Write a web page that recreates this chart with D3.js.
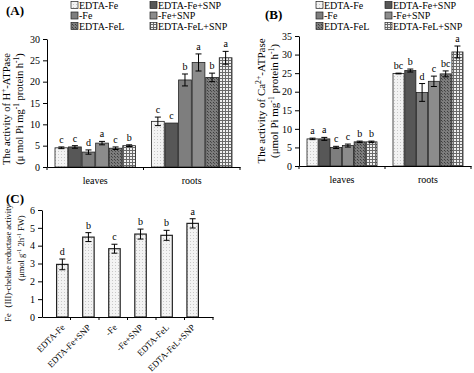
<!DOCTYPE html>
<html>
<head>
<meta charset="utf-8">
<script src="https://cdn.jsdelivr.net/npm/d3@7"></script>
<style>
body { margin: 0; background: #fff; }
text { font-family: "Liberation Serif", "Times New Roman", serif; fill: #000; }
</style>
</head>
<body>
<div class="board"></div>
<script>
var treatments = ["EDTA-Fe", "EDTA-Fe+SNP", "-Fe", "-Fe+SNP", "EDTA-FeL", "EDTA-FeL+SNP"]
var tissues = ["leaves", "roots"]

// (A) H+-ATPase
var hLeaves = [4.5, 4.7, 3.5, 5.6, 4.4, 5.0]
var hLeavesErr = [0.2, 0.3, 0.5, 0.4, 0.3, 0.2]
var hLeavesSig = ["c", "c", "d", "a", "c", "b"]
var hRoots = [10.7, 10.3, 20.4, 24.5, 21.0, 25.6]
var hRootsErr = [1.0, 0, 1.4, 2.0, 1.0, 1.5]
var hRootsSig = ["c", "c", "b", "a", "b", "a"]
var hTicks = [0, 5, 10, 15, 20, 25, 30]

// (B) Ca2+-ATPase
var caLeaves = [7.3, 7.3, 5.0, 5.5, 6.5, 6.5]
var caLeavesErr = [0.2, 0.4, 0.3, 0.4, 0.2, 0.2]
var caLeavesSig = ["a", "a", "c", "c", "b", "b"]
var caRoots = [24.9, 25.7, 19.8, 22.8, 24.8, 30.7]
var caRootsErr = [0.1, 0.4, 2.4, 1.4, 0.8, 1.6]
var caRootsSig = ["bc", "b", "d", "c", "bc", "a"]
var caTicks = [0, 5, 10, 15, 20, 25, 30, 35]

// (C) Fe(III)-chelate reductase
var fcr = [2.95, 4.48, 3.83, 4.65, 4.58, 5.25]
var fcrErr = [0.3, 0.25, 0.25, 0.28, 0.28, 0.26]
var fcrSig = ["d", "b", "c", "b", "b", "a"]
var fcrTicks = [0, 1, 2, 3, 4, 5, 6]

var svg = d3.select(".board")
    .append("svg")
    .attr("width", 474)
    .attr("height", 373)

var defs = svg.append("defs")

function makePattern(id, size, bg) {
    var p = defs.append("pattern")
        .attr("id", id)
        .attr("patternUnits", "userSpaceOnUse")
        .attr("width", size)
        .attr("height", size)
    p.append("rect").attr("width", size).attr("height", size).attr("fill", bg)
    return p
}

var pd = makePattern("pDots", 3, "#f3f3f3")
pd.append("rect").attr("x", 1).attr("y", 1).attr("width", 1).attr("height", 1).attr("fill", "#c8c8c8")

var pc = makePattern("pCross", 3, "#7c7c7c")
pc.append("rect").attr("x", 0).attr("y", 0).attr("width", 1).attr("height", 1).attr("fill", "#3c3c3c")
pc.append("rect").attr("x", 1).attr("y", 1).attr("width", 1).attr("height", 1).attr("fill", "#505050")

var pg = makePattern("pGrid", 3, "#f0f0f0")
pg.append("rect").attr("x", 0).attr("y", 0).attr("width", 3).attr("height", 1).attr("fill", "#6a6a6a")
pg.append("rect").attr("x", 0).attr("y", 0).attr("width", 1).attr("height", 3).attr("fill", "#6a6a6a")

var fills = {
    "EDTA-Fe": "url(#pDots)",
    "EDTA-Fe+SNP": "#575757",
    "-Fe": "#7e7e7e",
    "-Fe+SNP": "#8c8c8c",
    "EDTA-FeL": "url(#pCross)",
    "EDTA-FeL+SNP": "url(#pGrid)"
}

// text with ^{..} superscripts
function richText(sel, str) {
    var parts = str.split(/(\^\{[^}]*\})/)
    parts.forEach(part => {
        if (!part) return
        if (part.startsWith("^{")) {
            sel.append("tspan")
                .attr("font-size", "0.7em")
                .attr("baseline-shift", "super")
                .text(part.slice(2, -1))
        } else {
            sel.append("tspan").text(part)
        }
    })
}

function styleAxis(a) {
    a.selectAll("path, line").attr("stroke", "#000")
    a.selectAll("text").attr("font-size", 10).attr("fill", "#000")
        .attr("font-family", "Liberation Serif, Times New Roman, serif")
}

function errorBar(g, cx, y, v, e, letter, capW) {
    if (e > 0) {
        g.append("line").attr("x1", cx).attr("x2", cx)
            .attr("y1", y(v + e)).attr("y2", y(v - e))
            .attr("stroke", "#000").attr("stroke-width", 1)
        ;[v + e, v - e].forEach(t => {
            g.append("line").attr("x1", cx - capW / 2).attr("x2", cx + capW / 2)
                .attr("y1", y(t)).attr("y2", y(t))
                .attr("stroke", "#000").attr("stroke-width", 1)
        })
    }
    g.append("text")
        .attr("x", cx)
        .attr("y", y(v + e) - 4)
        .attr("text-anchor", "middle")
        .attr("font-size", 10)
        .text(letter)
}

function groupedPanel(p) {
    var g = svg.append("g")
    var y = d3.scaleLinear().domain([0, p.yMax]).range([p.bottom, p.top])
    var xg = d3.scaleBand().domain(tissues).range([p.left, p.right])
    var xb = d3.scaleBand().domain(treatments)
        .range([p.inset, xg.bandwidth() - p.inset])
        .paddingInner(0.06)

    p.series.forEach((s, gi) => {
        s.vals.forEach((v, i) => {
            var bx = xg(tissues[gi]) + xb(treatments[i])
            g.append("rect")
                .attr("x", bx)
                .attr("y", y(v))
                .attr("width", xb.bandwidth())
                .attr("height", y(0) - y(v))
                .attr("fill", fills[treatments[i]])
                .attr("stroke", "#222")
                .attr("stroke-width", 0.8)
            errorBar(g, bx + xb.bandwidth() / 2, y, v, s.errs[i], s.sig[i], 6)
        })
    })

    var ya = g.append("g")
        .attr("transform", `translate(${p.left},0)`)
        .call(d3.axisLeft(y).tickValues(p.ticks).tickSize(4).tickSizeOuter(0).tickPadding(3))
    styleAxis(ya)

    var xa = g.append("g")
        .attr("transform", `translate(0,${p.bottom})`)
        .call(d3.axisBottom(xg).tickSize(0).tickPadding(10))
    styleAxis(xa)
    ;[p.left, xg(tissues[1]), p.right].forEach(t => {
        g.append("line").attr("x1", t).attr("x2", t)
            .attr("y1", p.bottom).attr("y2", p.bottom + 3)
            .attr("stroke", "#000")
    })

    var mid = (p.top + p.bottom) / 2 + p.labShift
    p.ylab.forEach((l, k) => {
        var t = g.append("text")
            .attr("transform", `translate(${p.labX[k]},${mid}) rotate(-90)`)
            .attr("text-anchor", "middle")
            .attr("font-size", p.labSize)
        richText(t, l)
    })

    g.append("text")
        .attr("x", p.title[1]).attr("y", p.title[2])
        .attr("font-size", 13).attr("font-weight", "bold")
        .text(p.title[0])

    // legend
    treatments.forEach((d, i) => {
        var lx = p.legX[i % 2], ly = p.legY + Math.floor(i / 2) * 10.5
        g.append("rect")
            .attr("x", lx).attr("y", ly - 3.5)
            .attr("width", 7).attr("height", 7)
            .attr("fill", fills[d])
            .attr("stroke", "#222").attr("stroke-width", 0.7)
        g.append("text")
            .attr("x", lx + 8).attr("y", ly + 3.5)
            .attr("font-size", 10)
            .text(d)
    })
}

groupedPanel({
    left: 47, right: 240, top: 39, bottom: 167, inset: 8, yMax: 30, ticks: hTicks,
    series: [
        { vals: hLeaves, errs: hLeavesErr, sig: hLeavesSig },
        { vals: hRoots, errs: hRootsErr, sig: hRootsSig }
    ],
    ylab: ["The activity of H^{+}-ATPase", "(μ mol Pi mg^{-1} protein h^{-1})"],
    labX: [10, 23], labShift: 6, labSize: 10.5,
    title: ["(A)", 6, 15],
    legX: [71, 150], legY: 5
})

groupedPanel({
    left: 299, right: 471, top: 36, bottom: 166, inset: 8, yMax: 35, ticks: caTicks,
    series: [
        { vals: caLeaves, errs: caLeavesErr, sig: caLeavesSig },
        { vals: caRoots, errs: caRootsErr, sig: caRootsSig }
    ],
    ylab: ["The activity of Ca^{2+}-ATPase", "(μmol Pi mg^{-1} protein h^{-1})"],
    labX: [265, 278], labShift: 0, labSize: 11,
    title: ["(B)", 265, 19],
    legX: [316, 385], legY: 5
})

// panel C
var gc = svg.append("g")
var yc = d3.scaleLinear().domain([0, 6]).range([317, 210])
var xc = d3.scaleBand().domain(treatments).range([42, 213]).padding(0.56)

fcr.forEach((v, i) => {
    var bx = xc(treatments[i])
    gc.append("rect")
        .attr("x", bx).attr("y", yc(v))
        .attr("width", xc.bandwidth())
        .attr("height", yc(0) - yc(v))
        .attr("fill", "url(#pDots)")
        .attr("stroke", "#222").attr("stroke-width", 1.2)
    errorBar(gc, bx + xc.bandwidth() / 2, yc, v, fcrErr[i], fcrSig[i], 6)
})

var yca = gc.append("g")
    .attr("transform", "translate(42,0)")
    .call(d3.axisLeft(yc).tickValues(fcrTicks).tickFormat(d3.format("d"))
        .tickSize(4).tickSizeOuter(0).tickPadding(3))
styleAxis(yca)

var xca = gc.append("g")
    .attr("transform", "translate(0,317)")
    .call(d3.axisBottom(xc).tickSize(0))
styleAxis(xca)
xca.selectAll("text")
    .attr("font-size", 9)
    .attr("text-anchor", "end")
    .attr("x", 0).attr("y", 0).attr("dy", 0)
    .attr("transform", "translate(3,11) rotate(-45)")

d3.range(1, treatments.length + 1).forEach(i => {
    var t = 42 + i * (213 - 42) / treatments.length
    gc.append("line").attr("x1", t).attr("x2", t)
        .attr("y1", 317).attr("y2", 320).attr("stroke", "#000")
})

;["Fe（III)-chelate reductase activity", "(μmol g^{-1} 2h^{-1} FW)"].forEach((l, k) => {
    var t = gc.append("text")
        .attr("transform", `translate(${[11, 24][k]},${[263, 248][k]}) rotate(-90)`)
        .attr("text-anchor", "middle")
        .attr("font-size", 8.5)
    richText(t, l)
})

gc.append("text")
    .attr("x", 6).attr("y", 203)
    .attr("font-size", 13).attr("font-weight", "bold")
    .text("(C)")
</script>
</body>
</html>
